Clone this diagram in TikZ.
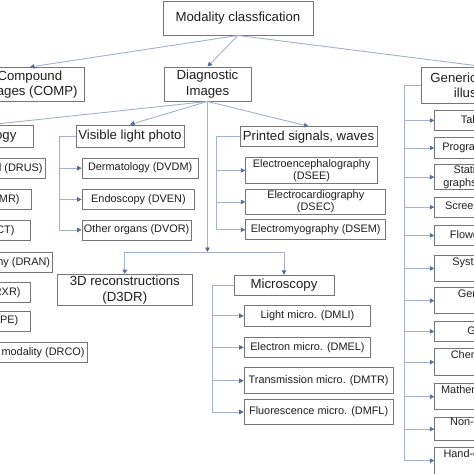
\documentclass[tikz,border=0pt]{standalone}
\usepackage{fontspec}
\setmainfont{Liberation Sans}
\usetikzlibrary{arrows.meta,calc}
\definecolor{boxgray}{RGB}{118,118,118}
\definecolor{linkblue}{RGB}{160,178,208}
\definecolor{tipblue}{RGB}{74,110,170}
\newcommand{\bigtxt}{\fontsize{13.2}{15.5}\selectfont}
\newcommand{\smalltxt}{\fontsize{10.9}{12.2}\selectfont}

\begin{document}
\begin{tikzpicture}[x=1pt, y=-1pt,
  box/.style={draw=boxgray, line width=0.9pt, fill=white, text=black!88, font=\bigtxt, align=center, inner sep=1pt},
  leaf/.style={box, font=\smalltxt},
  link/.style={draw=linkblue, line width=0.9pt},
  arr/.style={link, -{Triangle[length=4.5pt, width=4.5pt, color=tipblue]}}]
\useasboundingbox (0,0) rectangle (474,474);
\clip (0,0) rectangle (474,474);
% top levels
\node[box, minimum width=150pt, minimum height=34pt] (root) at (238,18) {Modality classfication};
\node[box, anchor=north east, inner xsep=7pt, minimum height=34pt] (comp) at (85,67) {Compound\\Images (COMP)};
\node[box, minimum width=87pt, minimum height=34pt] (diag) at (207.5,84) {Diagnostic\\Images};
\node[box, anchor=north west, inner xsep=9pt, minimum height=36pt] (gen) at (421,67) {Generic biomedical\\illustrations};
% diagnostic groups
\node[box, anchor=north east, minimum width=93pt, minimum height=22pt] (radio) at (34,125) {Radiology};
\node[box, minimum width=108pt, minimum height=22pt] (vis) at (130,136) {Visible light photo};
\node[box, minimum width=137pt, minimum height=20pt] (prin) at (308.5,136.7) {Printed signals, waves};
\node[box, minimum width=135pt, minimum height=31pt] (d3dr) at (124.8,290) {3D reconstructions\\(D3DR)};
\node[box, minimum width=100pt, minimum height=20pt] (micro) at (284,285.3) {Microscopy};
% radiology leaves
\foreach \nm/\txt/\xr/\yt/\pad in {drus/Ultrasound (DRUS)/46/158/3,
    drmr/Magnetic resonance (DRMR)/32/189/12, drct/Computerized tomography (DRCT)/31/220/16,
    dran/Angiography (DRAN)/53/252/2.5, drxr/X-ray 2D radiography (DRXR)/31/282/10,
    drpe/PET (DRPE)/30.7/310.5/12, drco/Combined modality (DRCO)/88/342/3}
  \node[leaf, anchor=north east, inner xsep=\pad pt, minimum height=20pt] (\nm) at (\xr,\yt) {\txt};
% visible light leaves
\foreach \nm/\txt/\yt/\bw in {dvdm/Dermatology (DVDM)/157.7/116,
    dven/Endoscopy (DVEN)/189/112.6, dvor/Other organs (DVOR)/219.5/109}
  \node[leaf, anchor=north west, minimum width=\bw pt, minimum height=20pt] (\nm) at (81.7,\yt) {\txt};
% signal leaves
\foreach \nm/\txt/\yt/\bw/\bh in {dsee/Electroencephalography\\(DSEE)/157.3/131.7/25.4,
    dsec/Electrocardiography\\(DSEC)/189/140/25, dsem/Electromyography (DSEM)/219.3/140/20}
  \node[leaf, anchor=north west, minimum width=\bw pt, minimum height=\bh pt] (\nm) at (245.3,\yt) {\txt};
% microscopy leaves
\foreach \nm/\txt/\yt/\bw/\bh in {dmli/Light micro. (DMLI)/305/126.6/20.7,
    dmel/Electron micro. (DMEL)/336.7/126.6/20.5, dmtr/Transmission micro. (DMTR)/367.3/149/26,
    dmfl/Fluorescence micro. (DMFL)/399/149/25}
  \node[leaf, anchor=north west, minimum width=\bw pt, minimum height=\bh pt] (\nm) at (243.7,\yt) {\txt};
% generic leaves
\foreach \nm/\txt/\yt/\bh in {gtab/Tables (GTAB)/110/20, gpli/Program listing (GPLI)/137.3/20.4,
    gfig/{Statistical figures,\\graphs, charts (GFIG)}/164/25.3, gscr/Screenshots (GSCR)/196.7/20,
    gflo/Flowcharts (GFLO)/225/20, gsys/System overviews\\(GSYS)/255/26,
    ggen/Gene sequence\\(GGEN)/287.3/26, ggel/Gel (GGEL)/321/20,
    gche/Chemical structure\\(GCHE)/348.3/26.7, gmat/{Mathematics, formulae\\(GMAT)}/383.3/26,
    gncp/Non-clinical photos\\(GNCP)/417.3/22.7, ghdr/Hand-drawn sketches\\(GHDR)/446.7/27}
  \node[leaf, anchor=north west, inner ysep=0pt, minimum width=123pt, minimum height=\bh pt] (\nm) at (434.3,\yt) {\txt};
% connectors
\draw[arr] (root.south) -- (comp.north);
\draw[arr] (root.south) -- (diag.north);
\draw[arr] (root.south) -- (gen.north);
\draw[arr] (diag.south) -- (radio.north);
\draw[arr] (diag.south) -- (vis.north);
\draw[arr] (diag.south) -- (prin.north);
\coordinate (split) at (207.5,252);
\draw[arr] (diag.south) -- (split);
\draw[arr] (split) -| (d3dr.north);
\draw[arr] (split) -| (micro.north);
\coordinate (visbus) at ($(vis.west)+(-16,0)$);
\draw[link] (vis.west) -- (visbus);
\foreach \c in {dvdm,dven,dvor}
  \draw[arr] (visbus) |- (\c.west);
\coordinate (prinbus) at ($(prin.west)+(-23.3,0)$);
\draw[link] (prin.west) -- (prinbus);
\foreach \c in {dsee,dsec,dsem}
  \draw[arr] (prinbus) |- (\c.west);
\coordinate (micbus) at ($(micro.west)+(-20.7,0)$);
\draw[link] (micro.west) -- (micbus);
\foreach \c in {dmli,dmel,dmtr,dmfl}
  \draw[arr] (micbus) |- (\c.west);
\coordinate (genbus) at ($(gen.west)+(-17,0)$);
\draw[link] (gen.west) -- (genbus);
\foreach \c in {gtab,gpli,gfig,gscr,gflo,gsys,ggen,ggel,gche,gmat,gncp,ghdr}
  \draw[arr] (genbus) |- (\c.west);
\end{tikzpicture}
\end{document}
